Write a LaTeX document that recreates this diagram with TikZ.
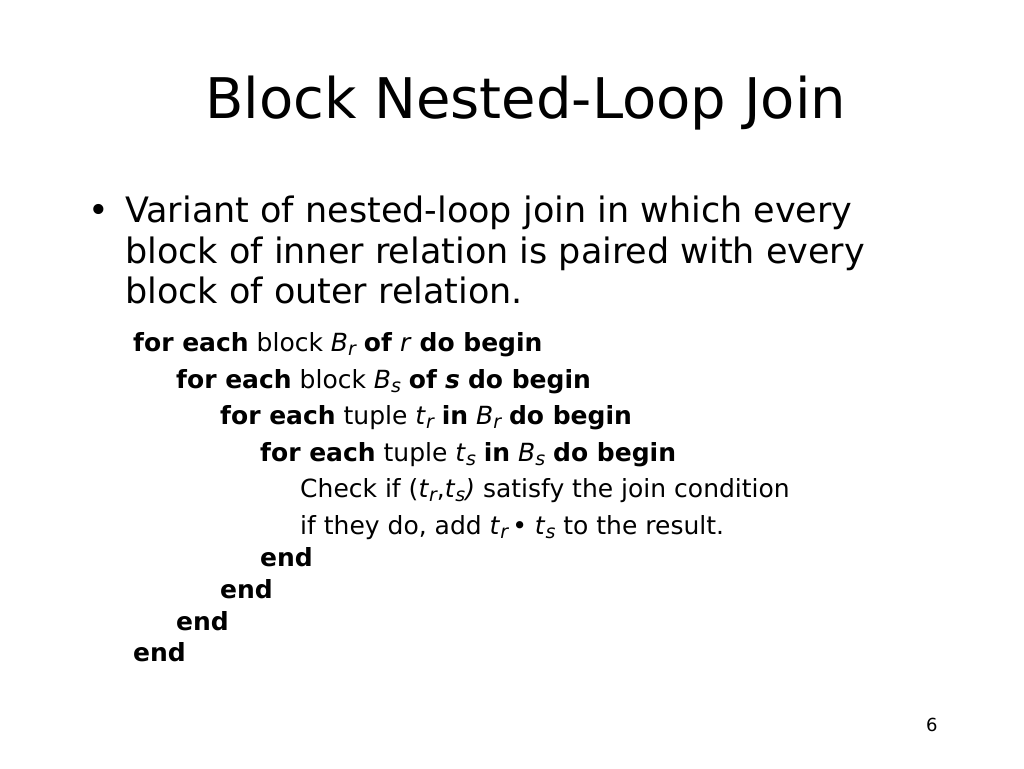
\documentclass[tikz,border=0pt]{standalone}
\usepackage{fontspec}
\setmainfont{DejaVu Sans}
\newcommand{\mysub}[1]{\raisebox{-0.35ex}{\fontsize{19}{19}\selectfont\itshape #1}}
\begin{document}
\begin{tikzpicture}[x=1pt,y=-1pt,
  title/.style={anchor=base west,inner sep=0,font=\fontsize{56}{56}\selectfont},
  body/.style={anchor=base west,inner sep=0,font=\fontsize{35}{35}\selectfont},
  code/.style={anchor=base west,inner sep=0,font=\fontsize{25}{25}\selectfont}]
\useasboundingbox[fill=white] (0,0) rectangle (1024,768);
\node[title] (t) at (205,118) {Block Nested-Loop Join};
\node[body] (b) at (88,222) {•};
\node[body] (l1) at (125,222) {Variant of nested-loop join in which every};
\node[body] (l2) at (125,263) {block of inner relation is paired with every};
\node[body] (l3) at (125,303) {block of outer relation.};
\node[code] (c1) at (133,351) {\textbf{for each} block \textit{B}\mysub{r} \textbf{of} \textit{r} \textbf{do begin}};
\node[code] (c2) at (176,388) {\textbf{for each} block \textit{B}\mysub{s} \textbf{of} \textbf{\textit{s}} \textbf{do begin}};
\node[code] (c3) at (220,424) {\textbf{for each} tuple \textit{t}\mysub{r} \textbf{in} \textit{B}\mysub{r} \textbf{do begin}};
\node[code] (c4) at (260,461) {\textbf{for each} tuple \textit{t}\mysub{s} \textbf{in} \textit{B}\mysub{s} \textbf{do begin}};
\node[code] (c5) at (300,497) {Check if (\textit{t}\mysub{r},\textit{t}\mysub{s}\textit{)} satisfy the join condition};
\node[code] (c6) at (300,534) {if they do, add \textit{t}\mysub{r}\,• \textit{t}\mysub{s} to the result.};
\node[code] (c7) at (260,566) {\textbf{end}};
\node[code] (c8) at (220,598) {\textbf{end}};
\node[code] (c9) at (176,630) {\textbf{end}};
\node[code] (c10) at (133,661) {\textbf{end}};
\node[anchor=base west,inner sep=0,font=\fontsize{18}{18}\selectfont] (n) at (926,731) {6};
\end{tikzpicture}
\end{document}
